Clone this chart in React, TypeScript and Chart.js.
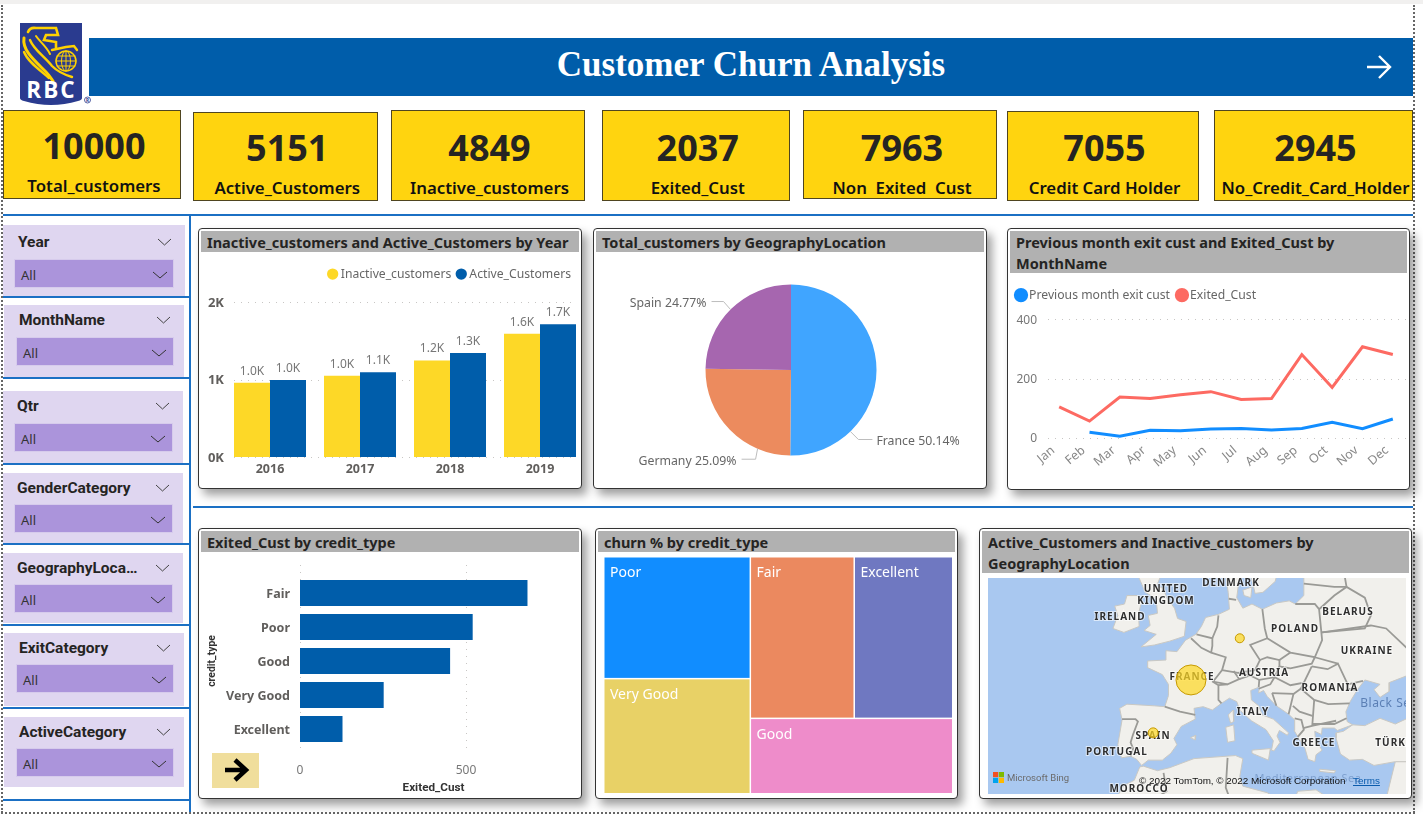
import React, { useEffect, useRef } from "react";
import { Chart, registerables } from "chart.js";

Chart.register(...registerables);
Chart.defaults.font.family = '"Noto Sans", sans-serif';
Chart.defaults.animation = false as any;

// ---------- data ----------
const kpiValues = ["10000", "5151", "4849", "2037", "7963", "7055", "2945"];
const kpiLabels = ["Total_customers", "Active_Customers", "Inactive_customers", "Exited_Cust", "Non  Exited  Cust", "Credit Card Holder", "No_Credit_Card_Holder"];

const slicerNames = ["Year", "MonthName", "Qtr", "GenderCategory", "GeographyLoca…", "ExitCategory", "ActiveCategory"];

const years = ["2016", "2017", "2018", "2019"];
const inactiveByYear = [960, 1049, 1248, 1592];
const activeByYear = [995, 1095, 1345, 1716];
const yearTicks = [0, 1000, 2000];

const geoNames = ["France", "Germany", "Spain"];
const geoShare = [50.14, 25.09, 24.77];

const months = ["Jan", "Feb", "Mar", "Apr", "May", "Jun", "Jul", "Aug", "Sep", "Oct", "Nov", "Dec"];
const prevMonthExit = [null, 19, 6, 26, 24, 30, 32, 27, 32, 53, 31, 64];
const exitedByMonth = [105, 57, 138, 133, 146, 156, 130, 133, 281, 170, 307, 281];
const monthTicks = [0, 200, 400];

const creditTypes = ["Fair", "Poor", "Good", "Very Good", "Excellent"];
const exitedByCredit = [685, 520, 452, 252, 128];
const creditTicks = [0, 500];

const churnNames = ["Poor", "Very Good", "Fair", "Excellent", "Good"];
const churnPct = [21.6, 20.4, 20.3, 19.25, 18.45];

const bubbleCountries = [
  { x: 2.5, lat: 46.5, r: 15 },
  { x: 10.5, lat: 51, r: 4.5 },
  { x: -3.7, lat: 40.2, r: 5 },
];

const landGreatBritain = [[-5.7,50.1],[-3.5,50.3],[-1,50.7],[1.4,51.2],[1.7,52.7],[0.3,53],[-0.2,54],[-1.5,55],[-2,55.9],[-3.2,56],[-2,57.6],[-4,57.7],[-3.2,58.6],[-5,58.6],[-6,56.8],[-5,55.5],[-3.2,54.9],[-3,53.5],[-4.5,53.3],[-4.2,52.3],[-5.2,51.8],[-3.2,51.4]];
const landIreland = [[-6,52.2],[-6.1,53.5],[-5.6,54.6],[-6.3,55.2],[-8,55.2],[-8.4,54.4],[-10,54.2],[-9.5,53.3],[-10.3,52],[-8.5,51.6]];
const landEurope = [[-8.9,37],[-9.5,38.7],[-8.8,41.8],[-9.2,43.2],[-8,43.7],[-3.5,43.5],[-1.8,43.4],[-1.2,44.7],[-1.2,46],[-2.2,47.1],[-4.7,47.9],[-4.6,48.6],[-1.6,48.7],[-1.6,49.7],[0.2,49.6],[1.6,50.8],[3.3,51.4],[4.2,52.2],[4.9,53.1],[7,53.4],[8.8,53.9],[8.6,55.5],[8.2,57],[10.6,57.7],[10.3,56.3],[10,55],[11,54],[12.5,54.4],[14.2,53.9],[16.5,54.5],[18.6,54.7],[19.6,54.4],[21,55.2],[21,57],[22,57.6],[24.3,57.2],[24.5,58.3],[23.5,59.2],[28,59.6],[30,60],[38,60],[38,47],[35,46.2],[35,45.2],[33.5,44.5],[32.5,45.4],[33.5,46],[31,46.5],[29.7,45.3],[28.6,44],[27.9,42.8],[28.1,41.6],[29,41.2],[26.5,40.5],[26,40.8],[24,40.8],[23.9,40],[22.8,40.4],[22.9,39.3],[24,38],[23,37.4],[22.8,36.5],[21.7,36.8],[21.2,38.2],[20.2,39.5],[19.4,40.5],[19.5,41.8],[18.5,42.5],[16.5,43.5],[15,44.6],[14.4,45.3],[13.6,45],[13.7,45.7],[12.3,45.3],[12.4,44.2],[13.6,43.5],[14.2,42.4],[16,41.9],[18.5,40.2],[18.3,39.9],[17,40.5],[16.6,39.8],[17.1,39],[16.1,37.9],[15.7,38],[16,39.2],[14.8,40.6],[12.4,41.7],[10.5,43],[10,44],[8.8,44.4],[7.5,43.8],[6,43],[4.5,43.4],[3,43.2],[3.2,41.9],[0.9,41],[-0.3,39.5],[0.2,38.7],[-0.8,37.6],[-2.2,36.7],[-4.5,36.7],[-5.6,36],[-6.4,36.8],[-7.4,37.2]];
const landTurkey = [[26.3,39.5],[27,37.5],[28.5,36.7],[30.6,36.8],[32.5,36],[36,36.5],[38,36.5],[38,42],[36,41.3],[33.5,42],[31,41.1],[29,41.2],[27.5,40.4],[26.3,40.2]];
const landAfrica = [[-12,29],[-9.8,31.5],[-8.5,33.3],[-6.8,34],[-5.9,35.8],[-5.3,35.9],[-3,35.3],[-1,35.7],[3,36.9],[9.8,37.3],[11,36.9],[10.5,34.5],[11,33.2],[15,32.3],[19,30.3],[20,32.5],[23,32.7],[25,31.6],[30,31.3],[33,31.2],[34.5,31.5],[36,36.5],[38,36.5],[38,28],[-12,28]];
const landSicily = [[12.5,38],[15.5,38.2],[15.2,36.7],[12.5,37.6]];
const landSardinia = [[8.2,40.9],[9.5,41.2],[9.7,39.2],[8.5,39]];
const landCorsica = [[8.6,42.4],[9.4,43],[9.5,41.6],[9,41.4]];
const landCrete = [[23.6,35.5],[26.2,35.3],[26,35],[23.6,35.2]];
const landMallorca = [[2.4,39.6],[3.3,39.9],[3.2,39.3]];
const landZealand = [[11,55.7],[12.5,56],[12.3,55],[11.2,55.2]];
const landScandinavia = [[8,58],[11,59],[11.3,58.8],[12.7,56.2],[13,55.4],[14.3,55.5],[16.3,56.5],[17,58],[18.9,59.8],[17,61],[5,61],[5,59]];
const lands = [landGreatBritain, landIreland, landEurope, landTurkey, landAfrica, landSicily, landSardinia, landCorsica, landCrete, landMallorca, landZealand, landScandinavia];

const borders = [
  [[-8.8,41.9],[-6.6,41.9],[-6.2,41.6],[-7,40],[-7.4,39],[-7,38.2],[-7.4,37.2]],
  [[-1.8,43.4],[0.7,42.8],[3.2,42.4]],
  [[2.5,51],[4.2,50],[5.8,49.5],[8.2,49],[7.6,47.6],[6.1,46.3],[7,45.9],[7,44.2],[7.5,43.8]],
  [[3.4,51.4],[6,51],[6,50.2],[5.8,49.5]],
  [[7,53.3],[6.8,52.2],[6,51]],
  [[14.2,53.9],[14.6,52],[15,51],[12.2,50.3],[13.8,48.7],[13,47.6],[10.2,47.3],[7.6,47.6]],
  [[8.7,54.9],[9.9,54.8]],
  [[15,51],[18.8,49.5],[22.8,49],[24,50.8],[23.5,53.9],[22.8,54.4],[19.6,54.4]],
  [[13.8,48.7],[15,49],[17,48.7],[18.8,49.5]],
  [[17,48.7],[17,48],[18.8,47.8],[22.3,48.3],[22.8,49]],
  [[17,48],[16.2,46.8],[13.7,46.5],[12.2,47],[10.2,47.3]],
  [[6.1,46.3],[8.5,46],[10.4,46.6],[9.5,47.5]],
  [[7,45.9],[8.5,46]],
  [[10.4,46.6],[12.2,47]],
  [[13.7,46.5],[13.6,45.7]],
  [[13.6,45.5],[15.5,46],[16.2,46.8],[18.8,45.9],[21,46.2],[22.3,48]],
  [[22.3,48],[24.9,47.7],[26.6,48.3],[28.2,46],[28.2,45.5],[29.7,45.3]],
  [[21,46.2],[20.5,45.5],[22.7,44.2],[25,43.7],[28.5,43.8]],
  [[22.7,44.2],[22.4,41.3],[26,41.3],[28,42]],
  [[15.8,45],[19.3,44.9],[18.5,42.5]],
  [[15.8,45],[16.5,43.5]],
  [[19.3,44.9],[20.5,45.5]],
  [[19.2,43.5],[20.3,42.8],[22.4,42.3]],
  [[20.9,40.8],[22.5,41.1],[26.3,41.7]],
  [[19.5,42],[20.6,41.8],[21,40.6],[20,39.7]],
  [[23.5,53.9],[26,55.2],[28,56],[31,55],[32,53.3],[31,52],[24,51.6]],
  [[24,51.6],[32,52.3],[34.5,52],[38,49.9]],
  [[22.8,49],[26.6,48.3]],
  [[28.2,46],[30.7,46.4]],
  [[21,56.3],[26,56],[28,56]],
  [[24.3,57.8],[27.5,57.6],[28,56]],
  [[27.5,59.4],[27.5,57.6]],
  [[-2,35],[-1.5,32.5],[-8,29]],
  [[8.5,37],[8.2,33],[9.5,30]],
];

const mapLabels: [string, number, number][] = [
  ["UNITED", -1.6, 67.56], ["KINGDOM", -1.6, 65.59], ["DENMARK", 9.06, 68.54], ["IRELAND", -9.14, 62.97],
  ["BELARUS", 28.24, 63.79], ["POLAND", 19.55, 61.0], ["UKRAINE", 31.35, 57.39], ["FRANCE", 2.66, 53.13],
  ["AUSTRIA", 14.47, 53.79], ["ROMANIA", 25.29, 51.33], ["ITALY", 12.66, 47.39], ["SPAIN", -3.73, 43.46],
  ["PORTUGAL", -9.63, 40.84], ["GREECE", 22.66, 42.31], ["TÜRKIYE", 36.76, 42.3], ["MOROCCO", -6.02, 34.77],
];

// ---------- styling ----------
const GOLD = "#FDD827";
const BLUE = "#005DAA";
const LINE = "#1B70C4";
const TXT = "#605E5C";
const SANS = '"Noto Sans", sans-serif';
const pieColors = ["#40A5FF", "#EC8B5E", "#A666AF"];
const churnColors = ["#118DFF", "#E8D166", "#EB895F", "#6F78C1", "#EE8CCA"];
const pieLeaders = [
  { deg: 136, ex: 8, ey: 8, len: 14 },
  { deg: 203, ex: -2, ey: 10.5, len: 14 },
  { deg: 315, ex: -7, ey: -8, len: 12 },
];

const merc = (lat: number) => (Math.log(Math.tan(Math.PI / 4 + (lat * Math.PI) / 360)) * 180) / Math.PI;
const toMapPts = (pts: number[][]) => pts.map(([x, lat]) => ({ x, y: merc(lat) }));

const legendShift = {
  id: "legendShift",
  afterLayout(chart: any, _a: any, o: any) {
    const l = chart.legend;
    if (!l || !o || (!o.dx && !o.dy)) return;
    l.left += o.dx || 0; l.right += o.dx || 0;
    l.top += o.dy || 0; l.bottom += o.dy || 0;
  },
};

const dotGrid = {
  id: "dotGrid",
  beforeDatasetsDraw(chart: any, _a: any, o: any) {
    if (!o || !o.axis) return;
    const { ctx, chartArea: c } = chart;
    const s = chart.scales[o.axis];
    ctx.save();
    ctx.strokeStyle = "#C8C6C4";
    ctx.lineWidth = 1;
    ctx.setLineDash([1, 6]);
    s.ticks.forEach((t: any) => {
      const p = Math.round(s.getPixelForValue(t.value)) + 0.5;
      ctx.beginPath();
      if (o.axis === "y") { ctx.moveTo(c.left + o.a, p); ctx.lineTo(c.right - o.b, p); }
      else { ctx.moveTo(p, c.top - o.a); ctx.lineTo(p, c.bottom + o.b); }
      ctx.stroke();
    });
    ctx.restore();
  },
};

const barLabels = {
  id: "barLabels",
  afterDatasetsDraw(chart: any) {
    const { ctx } = chart;
    ctx.save();
    ctx.font = `12px ${SANS}`;
    ctx.fillStyle = "#777";
    ctx.textAlign = "center";
    ctx.textBaseline = "middle";
    chart.data.datasets.forEach((d: any, i: number) => {
      chart.getDatasetMeta(i).data.forEach((el: any, j: number) => {
        ctx.fillText((d.data[j] / 1000).toFixed(1) + "K", el.x, el.y - 11.5);
      });
    });
    ctx.restore();
  },
};

const pieLabels = {
  id: "pieLabels",
  afterDatasetsDraw(chart: any) {
    const { ctx } = chart;
    ctx.save();
    ctx.font = `12.3px ${SANS}`;
    ctx.textBaseline = "middle";
    chart.getDatasetMeta(0).data.forEach((el: any, i: number) => {
      const g = pieLeaders[i];
      const a = (g.deg * Math.PI) / 180;
      const px = el.x + el.outerRadius * Math.sin(a);
      const py = el.y - el.outerRadius * Math.cos(a);
      const right = Math.sin(a) > 0;
      const qx = px + g.ex, qy = py + g.ey;
      const ex = qx + (right ? g.len : -g.len);
      ctx.strokeStyle = "#BDBDBD";
      ctx.lineWidth = 1;
      ctx.beginPath(); ctx.moveTo(px, py); ctx.lineTo(qx, qy); ctx.lineTo(ex, qy); ctx.stroke();
      ctx.fillStyle = "#666";
      ctx.textAlign = right ? "left" : "right";
      ctx.fillText(`${geoNames[i]} ${geoShare[i].toFixed(2)}%`, ex + (right ? 4 : -5), qy + 2);
    });
    ctx.restore();
  },
};

const treemapCells = {
  id: "treemapCells",
  beforeDatasetsDraw(chart: any) {
    const { ctx, scales: { x, y } } = chart;
    ctx.save();
    chart.data.datasets[0].data.forEach((c: any, i: number) => {
      const l = x.getPixelForValue(c.x), r = x.getPixelForValue(c.x + c.w);
      const t = y.getPixelForValue(c.y), b = y.getPixelForValue(c.y + c.h);
      ctx.fillStyle = churnColors[i];
      ctx.fillRect(l + 0.5, t + 0.5, r - l - 1.5, b - t - 1.5);
      ctx.fillStyle = "#fff";
      ctx.font = `14px ${SANS}`;
      ctx.textAlign = "left";
      ctx.textBaseline = "middle";
      ctx.fillText(churnNames[i], l + 6, t + 16.5);
    });
    ctx.restore();
  },
};

const mapText = {
  id: "mapText",
  beforeDatasetDraw(chart: any, args: any) {
    if (args.index !== 0) return;
    const { ctx, scales: { x, y } } = chart;
    ctx.save();
    ctx.textAlign = "center";
    ctx.textBaseline = "middle";
    (ctx as any).letterSpacing = "1px";
    ctx.font = `bold 10px ${SANS}`;
    mapLabels.forEach(([t, lon, m]) => {
      const px = x.getPixelForValue(lon), py = y.getPixelForValue(m);
      ctx.strokeStyle = "rgba(255,255,255,0.6)";
      ctx.lineWidth = 2;
      ctx.strokeText(t, px, py);
      ctx.fillStyle = "#2E2E2E";
      ctx.fillText(t, px, py);
    });
    (ctx as any).letterSpacing = "0.5px";
    ctx.font = `12px ${SANS}`;
    ctx.fillStyle = "#5B7FB5";
    ctx.fillText("Black Sea", x.getPixelForValue(34.96), y.getPixelForValue(48.7));
    ctx.fillStyle = "rgba(91,127,181,0.55)";
    ctx.font = `11px ${SANS}`;
    ctx.fillText("Mediterranean Sea", x.getPixelForValue(21.68), y.getPixelForValue(36.41));
    ctx.restore();
  },
};

const fixedW = (w: number) => (s: any) => { s.width = w; };
const fixedH = (h: number) => (s: any) => { s.height = h; };
const setTicks = (vals: number[]) => (s: any) => { s.ticks = vals.map((value) => ({ value })); };

const legendLabels = (padding: number) => ({
  usePointStyle: true, pointStyle: "circle", boxWidth: 4, boxHeight: 8, padding,
  color: "#666", font: { size: 12.2 },
});

const yearConfig = (): any => ({
  type: "bar",
  data: {
    labels: years,
    datasets: [
      { label: "Inactive_customers", data: inactiveByYear, backgroundColor: GOLD, categoryPercentage: 0.8, barPercentage: 1 },
      { label: "Active_Customers", data: activeByYear, backgroundColor: BLUE, categoryPercentage: 0.8, barPercentage: 1 },
    ],
  },
  options: {
    responsive: false, animation: false,
    layout: { autoPadding: false, padding: { top: 17, left: 0, right: 0, bottom: 0 } },
    plugins: {
      legend: { position: "top", align: "end", labels: legendLabels(8) },
      legendShift: { dx: -6, dy: -12 },
      dotGrid: { axis: "y", a: 9, b: 8 },
      tooltip: { enabled: false },
    },
    scales: {
      x: { grid: { display: false, drawTicks: false }, border: { display: false }, afterFit: fixedH(30),
        ticks: { padding: 5, color: TXT, font: { size: 12.5, weight: "bold" } } },
      y: { min: 0, max: 2000, grid: { display: false, drawTicks: false }, border: { display: false }, afterFit: fixedW(25),
        afterBuildTicks: setTicks(yearTicks),
        ticks: { padding: 1, labelOffset: 1, color: TXT, font: { size: 13, weight: "bold" }, callback: (v: number) => `${v / 1000}K` } },
    },
  },
  plugins: [legendShift, dotGrid, barLabels],
});

const pieConfig = (): any => ({
  type: "pie",
  data: { labels: geoNames, datasets: [{ data: geoShare, backgroundColor: pieColors, borderWidth: 0 }] },
  options: {
    responsive: false, animation: false,
    layout: { autoPadding: false, padding: 28.5 },
    plugins: { legend: { display: false }, tooltip: { enabled: false } },
  },
  plugins: [pieLabels],
});

const monthConfig = (): any => ({
  type: "line",
  data: {
    labels: months,
    datasets: [
      { label: "Previous month exit cust", data: prevMonthExit, borderColor: "#118DFF", backgroundColor: "#118DFF", borderWidth: 3, pointRadius: 0, tension: 0 },
      { label: "Exited_Cust", data: exitedByMonth, borderColor: "#FD6A62", backgroundColor: "#FD6A62", borderWidth: 3, pointRadius: 0, tension: 0 },
    ],
  },
  options: {
    responsive: false, animation: false,
    layout: { autoPadding: false, padding: { top: 12, left: 0, right: 1, bottom: 0 } },
    plugins: {
      legend: { position: "top", align: "start", labels: legendLabels(10) },
      legendShift: { dx: 0, dy: -8 },
      dotGrid: { axis: "y", a: 4, b: 2 },
      tooltip: { enabled: false },
    },
    scales: {
      x: { offset: true, grid: { display: false, drawTicks: false }, border: { display: false }, afterFit: fixedH(51),
        ticks: { autoSkip: false, minRotation: 40, maxRotation: 40, padding: 5, labelOffset: -6, color: "#888", font: { size: 12.5 } } },
      y: { min: 0, max: 400, grid: { display: false, drawTicks: false }, border: { display: false }, afterFit: fixedW(35),
        afterBuildTicks: setTicks(monthTicks),
        ticks: { padding: 7, labelOffset: 1, color: "#777", font: { size: 12 } } },
    },
  },
  plugins: [legendShift, dotGrid],
});

const creditConfig = (): any => ({
  type: "bar",
  data: { labels: creditTypes, datasets: [{ label: "Exited_Cust", data: exitedByCredit, backgroundColor: BLUE, categoryPercentage: 1, barPercentage: 0.765 }] },
  options: {
    indexAxis: "y", responsive: false, animation: false,
    layout: { autoPadding: false, padding: { top: 21, left: 0, right: 14, bottom: 0 } },
    plugins: { legend: { display: false }, dotGrid: { axis: "x", a: 11, b: 4 }, tooltip: { enabled: false } },
    scales: {
      x: { min: 0, max: 804, grid: { display: false, drawTicks: false }, border: { display: false }, afterFit: fixedH(51),
        afterBuildTicks: setTicks(creditTicks),
        ticks: { padding: 17, color: "#777", font: { size: 12 } },
        title: { display: true, text: "Exited_Cust", color: "#333", font: { size: 11.7, weight: "bold", family: "Roboto" }, padding: { top: 0, bottom: 2 } } },
      y: { grid: { display: false, drawTicks: false }, border: { display: false }, afterFit: fixedW(100),
        ticks: { padding: 10, labelOffset: 1, color: TXT, font: { size: 12.5, weight: "bold" } },
        title: { display: true, text: "credit_type", color: "#333", font: { size: 10.4, weight: "bold", family: "Roboto" }, padding: { top: 6, bottom: 0 } } },
    },
  },
  plugins: [dotGrid],
});

const buildCells = () => {
  const total = churnPct.reduce((a, b) => a + b, 0);
  const [poor, vg, fair, exc, good] = churnPct;
  const w1 = (poor + vg) / total;
  const h1 = poor / (poor + vg);
  const h2 = (fair + exc) / (fair + exc + good);
  const w2 = (1 - w1) * (fair / (fair + exc));
  return [
    { x: 0, y: 0, w: w1, h: h1 },
    { x: 0, y: h1, w: w1, h: 1 - h1 },
    { x: w1, y: 0, w: w2, h: h2 },
    { x: w1 + w2, y: 0, w: 1 - w1 - w2, h: h2 },
    { x: w1, y: h2, w: 1 - w1, h: 1 - h2 },
  ];
};

const churnConfig = (): any => ({
  type: "scatter",
  data: { datasets: [{ label: "churn %", data: buildCells(), pointRadius: 0 }] },
  options: {
    responsive: false, animation: false,
    layout: { autoPadding: false },
    plugins: { legend: { display: false }, tooltip: { enabled: false } },
    scales: {
      x: { display: false, min: 0, max: 1 },
      y: { display: false, min: 0, max: 1, reverse: true },
    },
  },
  plugins: [treemapCells],
});

const mapConfig = (): any => ({
  type: "scatter",
  data: {
    datasets: [
      {
        type: "bubble", label: "Customers",
        data: bubbleCountries.map((b) => ({ x: b.x, y: merc(b.lat), r: b.r })),
        backgroundColor: "rgba(253,216,39,0.72)", borderColor: "#C79A00", borderWidth: 1,
      },
      ...borders.map((b) => ({
        data: toMapPts(b), showLine: true, pointRadius: 0, borderColor: "#9A9A96", borderWidth: 1.8, fill: false, tension: 0,
      })),
      ...lands.map((l) => ({
        data: toMapPts([...l, l[0]]), showLine: true, pointRadius: 0, borderColor: "#C9C8C3", borderWidth: 1,
        backgroundColor: "#F1F0EC", fill: "shape", tension: 0,
      })),
    ],
  },
  options: {
    responsive: false, animation: false,
    layout: { autoPadding: false },
    plugins: { legend: { display: false }, tooltip: { enabled: false } },
    scales: {
      x: { display: false, min: -30.78, max: 37.75 },
      y: { display: false, min: 33.95, max: 69.36 },
    },
  },
  plugins: [mapText],
});

// ---------- components ----------
function ChartBox({ left, top, width, height, clipW, config, bg }: any) {
  const ref = useRef<HTMLCanvasElement>(null);
  useEffect(() => {
    const chart = new Chart(ref.current as HTMLCanvasElement, config());
    return () => chart.destroy();
  }, []);
  return (
    <div style={{ position: "absolute", left, top, width: clipW ?? width, height, overflow: "hidden", background: bg }}>
      <canvas ref={ref} width={width} height={height} style={{ display: "block", width, height }} />
    </div>
  );
}

const abs = (left: number, top: number, width: number, height: number, extra: any = {}) => ({
  position: "absolute" as const, left, top, width, height, ...extra,
});

function Card({ l, t, r, b, title, titleH = 21 }: any) {
  return (
    <>
      <div style={abs(l, t, r - l, b - t, { boxSizing: "border-box", border: "1px solid #333", borderRadius: 4, background: "#fff", boxShadow: "5px 6px 10px rgba(0,0,0,0.38)" })} />
      <div style={abs(l + 3, t + 3, r - l - 6, titleH, { background: "#B1B1B1", color: "#252423", fontFamily: SANS, fontWeight: 700, fontSize: 14.5, lineHeight: "21px", paddingLeft: 6, paddingTop: 1, boxSizing: "border-box", whiteSpace: "nowrap", overflow: "hidden" })}>
        {title}
      </div>
    </>
  );
}

function Chevron({ x, y, w = 13, color = "#444" }: any) {
  return (
    <svg style={abs(x - w / 2 - 1, y - 5, w + 2, 10)} viewBox={`0 0 ${w + 2} 10`}>
      <polyline points={`1,2 ${w / 2 + 1},8 ${w + 1},2`} fill="none" stroke={color} strokeWidth="1" />
    </svg>
  );
}

const slicerGeom = [
  { x: 3, r: 185, t: 225, b: 296, tx: 18, ty: 242, dl: 15, dr: 173, dt: 260, chev: 164 },
  { x: 4, r: 184, t: 305, b: 377, tx: 19, ty: 320, dl: 17, dr: 173, dt: 338, chev: 163 },
  { x: 3, r: 183, t: 391, b: 463, tx: 17, ty: 406, dl: 15, dr: 172, dt: 424, chev: 162 },
  { x: 3, r: 183, t: 473, b: 543, tx: 17, ty: 488, dl: 15, dr: 172, dt: 505, chev: 162 },
  { x: 3, r: 183, t: 553, b: 623, tx: 17, ty: 568, dl: 15, dr: 172, dt: 585, chev: 162 },
  { x: 4, r: 184, t: 633, b: 706, tx: 19, ty: 648, dl: 17, dr: 173, dt: 665, chev: 163 },
  { x: 4, r: 184, t: 717, b: 787, tx: 19, ty: 732, dl: 17, dr: 173, dt: 749, chev: 163 },
];
const sideLines = [297, 378, 464, 544, 625, 708, 800];

const kpiGeom = [
  { l: 3, r: 181, t: 110, b: 198.5, d: 0 },
  { l: 193, r: 377.5, t: 112, b: 200.5, d: 0 },
  { l: 390.5, r: 584.5, t: 110, b: 201, d: 2 },
  { l: 602, r: 789.5, t: 110, b: 201, d: 2 },
  { l: 803, r: 997, t: 110, b: 199, d: 2 },
  { l: 1006.5, r: 1198.5, t: 111, b: 200.5, d: 1 },
  { l: 1214, r: 1413, t: 110, b: 201, d: 2 },
];

function Logo() {
  const y = "#FFD200";
  return (
    <svg style={abs(18, 20, 76, 92)} viewBox="18 20 76 92">
      <path d="M20 23 H82 V98 Q82 100 78 101 Q51 109 24 101 Q20 100 20 98 Z" fill="#2A3B8F" />
      <g fill="none" stroke={y} strokeLinecap="round">
        <path d="M28 32 Q30 27 36 28 L56 28 L58 35 L46 35 L44 40 L56 42 L56 48" strokeWidth="2.6" />
        <path d="M52 50 L66 47 L74 46 L77 50" strokeWidth="2.4" />
        <path d="M24 38 C22 50 34 60 46 72 C50 76 52 80 53 81" strokeWidth="3" />
        <path d="M24 52 C28 62 40 70 49 78" strokeWidth="2.4" />
        <path d="M30 40 C34 50 44 56 52 66 C56 70 62 74 72 77" strokeWidth="2.4" />
        <path d="M36 36 C40 42 46 46 50 54" strokeWidth="2" />
        <circle cx="66" cy="61" r="10" strokeWidth="1.5" />
        <ellipse cx="66" cy="61" rx="4.5" ry="10" strokeWidth="1" />
        <path d="M56 61 H76 M57 56 H75 M57 66 H75 M66 51 V71" strokeWidth="1" />
      </g>
      <text x="51.5" y="97.5" textAnchor="middle" fill="#fff" fontFamily='"Open Sans"' fontWeight="700" fontSize="22.5" letterSpacing="2">RBC</text>
      <circle cx="87.5" cy="100" r="3" fill="none" stroke="#2A3B8F" strokeWidth="0.8" />
      <text x="87.5" y="102" textAnchor="middle" fill="#2A3B8F" fontFamily={SANS} fontWeight="700" fontSize="4.5">R</text>
    </svg>
  );
}

export default function App() {
  return (
    <div style={{ position: "absolute", left: 0, top: 0, width: 1423, height: 815, overflow: "hidden", background: "#fff", fontFamily: SANS }}>
      <div style={abs(0, 0, 1423, 4, { background: "#F1F0EF" })} />
      <div style={abs(1, 5, 0, 808, { borderLeft: "2px dotted #666" })} />
      <div style={abs(1413, 5, 0, 808, { borderLeft: "2px dotted #666" })} />
      <div style={abs(1, 812, 1414, 0, { borderTop: "2px dotted #666" })} />

      <Logo />
      <div style={abs(89, 38, 1324, 58, { background: BLUE })} />
      <div style={abs(89, 38, 1324, 53, { color: "#fff", textAlign: "center", fontFamily: '"Liberation Serif", serif', fontWeight: 700, fontSize: 35, lineHeight: "53px" })}>
        Customer Churn Analysis
      </div>
      <svg style={abs(1364, 53, 30, 28)} viewBox="0 0 30 28">
        <path d="M3 14 H25 M15 3 L26 14 L15 25" fill="none" stroke="#fff" strokeWidth="2.4" />
      </svg>

      {kpiValues.map((v, i) => {
        const g = kpiGeom[i];
        return (
          <div key={v} style={abs(g.l, g.t, g.r - g.l, g.b - g.t, { boxSizing: "border-box", border: "1px solid #4F4520", background: "#FFD40F", textAlign: "center" })}>
            <div style={abs(2, 11 + g.d, g.r - g.l - 2, 48, { fontSize: 36, fontWeight: 700, lineHeight: "48px", color: "#252423" })}>{v}</div>
            <div style={abs(2, 63 + g.d, g.r - g.l - 2, 24, { fontSize: 16.8, fontWeight: 600, lineHeight: "24px", color: "#111", whiteSpace: "pre" })}>{kpiLabels[i]}</div>
          </div>
        );
      })}

      <div style={abs(3, 214, 1410, 2, { background: LINE })} />
      <div style={abs(189, 215, 2, 597, { background: LINE })} />
      <div style={abs(193, 506, 1220, 2, { background: LINE })} />

      {slicerNames.map((n, i) => {
        const g = slicerGeom[i];
        return (
          <React.Fragment key={n}>
            <div style={abs(g.x, g.t, g.r - g.x, g.b - g.t, { background: "#DFD6F0" })} />
            <div style={abs(g.tx, g.ty - 10, 150, 20, { fontFamily: "Roboto", fontWeight: 700, fontSize: 15.5, lineHeight: "20px", color: "#252423", whiteSpace: "nowrap" })}>{n}</div>
            <Chevron x={g.chev} y={g.ty} />
            <div style={abs(g.dl, g.dt, g.dr - g.dl, 27, { background: "#AB94DB", boxShadow: "0 0 0 1px #D6CBEC" })} />
            <div style={abs(g.dl + 6, g.dt, 40, 28, { fontSize: 13, lineHeight: "30px", color: "#333" })}>All</div>
            <Chevron x={g.chev - 4} y={g.dt + 15} w={14} color="#333" />
          </React.Fragment>
        );
      })}
      {sideLines.map((y) => <div key={y} style={abs(3, y - 1, 186, 2, { background: LINE })} />)}

      <Card l={198} t={228} r={582} b={489} title="Inactive_customers and Active_Customers by Year" />
      <ChartBox left={200} top={255} width={385} clipW={381} height={232} config={yearConfig} />

      <Card l={593} t={228} r={987} b={489} title="Total_customers by GeographyLocation" />
      <ChartBox left={595} top={256} width={392} clipW={391} height={228} config={pieConfig} />

      <Card l={1007} t={228} r={1410} b={490} titleH={42} title={<>Previous month exit cust and Exited_Cust by<br />MonthName</>} />
      <ChartBox left={1009} top={275} width={400} height={214} config={monthConfig} />

      <Card l={198} t={528} r={582} b={799} title="Exited_Cust by credit_type" />
      <ChartBox left={200} top={555} width={381} height={242} config={creditConfig} />
      <div style={abs(212, 753, 47, 35, { background: "#F0DE9C" })} />
      <svg style={abs(222, 757, 28, 26)} viewBox="0 0 28 26">
        <path d="M3 13 H23 M13 3 L24 13 L13 23" fill="none" stroke="#000" strokeWidth="4.5" />
      </svg>

      <Card l={595} t={528} r={958} b={799} title="churn % by credit_type" />
      <ChartBox left={604} top={557} width={349} height={237} config={churnConfig} />

      <Card l={979} t={528} r={1412} b={799} titleH={42} title={<>Active_Customers and Inactive_customers by<br />GeographyLocation</>} />
      <ChartBox left={988} top={578} width={418} height={216} config={mapConfig} bg="#A9C8F0" />
      <svg style={abs(993, 772, 11, 11)} viewBox="0 0 11 11">
        <rect x="0" y="0" width="5.2" height="5.2" fill="#F25022" />
        <rect x="5.8" y="0" width="5.2" height="5.2" fill="#7FBA00" />
        <rect x="0" y="5.8" width="5.2" height="5.2" fill="#00A4EF" />
        <rect x="5.8" y="5.8" width="5.2" height="5.2" fill="#FFB900" />
      </svg>
      <div style={abs(1007, 771, 70, 14, { fontFamily: "Roboto", fontSize: 9.5, lineHeight: "14px", color: "#6B6B6B", whiteSpace: "nowrap" })}>Microsoft Bing</div>
      <div style={abs(1139, 774, 210, 14, { fontFamily: '"Liberation Sans"', fontSize: 9.9, lineHeight: "14px", color: "#111", whiteSpace: "nowrap" })}>© 2022 TomTom, © 2022 Microsoft Corporation</div>
      <div style={abs(1353, 774, 30, 14, { fontFamily: '"Liberation Sans"', fontSize: 9.9, lineHeight: "14px", color: "#0B5CAD", textDecoration: "underline" })}>Terms</div>
    </div>
  );
}
